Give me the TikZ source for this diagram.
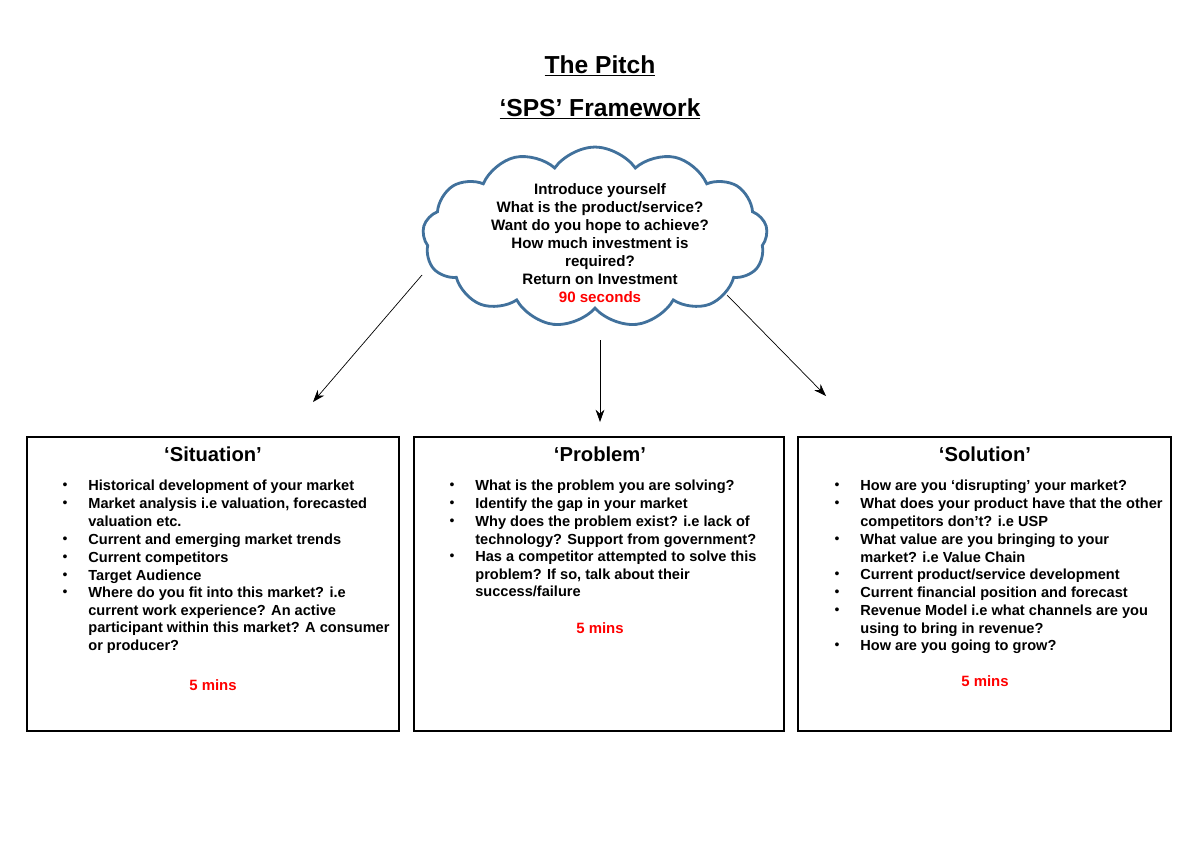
\documentclass[tikz,border=0pt]{standalone}
\usepackage{fontspec}
\setmainfont{Liberation Sans}
\usetikzlibrary{shapes.symbols,arrows.meta}
\definecolor{cloudblue}{HTML}{41719C}
\definecolor{redtxt}{HTML}{FF0000}
\tikzset{
  box/.style={draw,line width=1.2pt},
  ttl/.style={font=\bfseries\fontsize{11.5}{13}\selectfont},
  itm/.style={anchor=north west,inner sep=0pt,align=left,font=\bfseries\fontsize{8.3}{10.1}\selectfont},
  bul/.style={inner sep=0pt,font=\fontsize{8}{10}\selectfont},
  mins/.style={text=redtxt,font=\bfseries\fontsize{8.5}{10}\selectfont},
  conn/.style={-{Stealth[length=7pt,width=5pt]},line width=0.4pt},
}
\newcommand\myitem[3]{\node[bul] at (#1,#2) {•}; \node[itm] at (#1+23,#2-6.5) {#3};}
\begin{document}
\begin{tikzpicture}[x=0.02cm,y=-0.02cm]
\useasboundingbox (0,0) rectangle (1200,848);
\node[font=\bfseries\fontsize{14}{16}\selectfont] (t1) at (600,66) {\underline{The Pitch}};
\node[font=\bfseries\fontsize{14}{16}\selectfont] (t2) at (600,109) {\underline{‘SPS’ Framework}};
\node[cloud,cloud puffs=13,cloud puff arc=110,aspect=1.9,draw=cloudblue,line width=1.6pt,minimum width=6.9cm,minimum height=3.6cm] (cl) at (595,237) {};
\node[align=center,inner sep=0pt,font=\bfseries\fontsize{8.6}{10.2}\selectfont] (ct) at (600,243) {Introduce yourself\\What is the product/service?\\Want do you hope to achieve?\\How much investment is\\required?\\Return on Investment\\\textcolor{redtxt}{90 seconds}};
\coordinate (e1) at (313,402);
\coordinate (e2) at (600,422);
\coordinate (e3) at (826,396);
\coordinate (s1) at (422,275);
\coordinate (s2) at (600,340);
\coordinate (s3) at (727,295);
\draw[conn] (s1) -- (e1);
\draw[conn] (s2) -- (e2);
\draw[conn] (s3) -- (e3);
\draw[box] (27,437) rectangle (399,731);
\draw[box] (414,437) rectangle (784,731);
\draw[box] (798,437) rectangle (1171,731);
\node[ttl] (b1) at (213,454) {‘Situation’};
\node[ttl] (b2) at (600,454) {‘Problem’};
\node[ttl] (b3) at (985,454) {‘Solution’};
\myitem{65}{486}{Historical development of your market}
\myitem{65}{504}{Market analysis i.e valuation, forecasted\\valuation etc.}
\myitem{65}{540}{Current and emerging market trends}
\myitem{65}{558}{Current competitors}
\myitem{65}{576}{Target Audience}
\myitem{65}{593}{Where do you fit into this market? i.e\\current work experience? An active\\participant within this market? A consumer\\or producer?}
\myitem{452}{486}{What is the problem you are solving?}
\myitem{452}{504}{Identify the gap in your market}
\myitem{452}{522}{Why does the problem exist? i.e lack of\\technology? Support from government?}
\myitem{452}{557}{Has a competitor attempted to solve this\\problem? If so, talk about their\\success/failure}
\myitem{837}{486}{How are you ‘disrupting’ your market?}
\myitem{837}{504}{What does your product have that the other\\competitors don’t? i.e USP}
\myitem{837}{540}{What value are you bringing to your\\market? i.e Value Chain}
\myitem{837}{575}{Current product/service development}
\myitem{837}{593}{Current financial position and forecast}
\myitem{837}{611}{Revenue Model i.e what channels are you\\using to bring in revenue?}
\myitem{837}{646}{How are you going to grow?}
\node[mins] (m1) at (213,685) {5 mins};
\node[mins] (m2) at (600,628) {5 mins};
\node[mins] (m3) at (985,681) {5 mins};
\end{tikzpicture}
\end{document}
